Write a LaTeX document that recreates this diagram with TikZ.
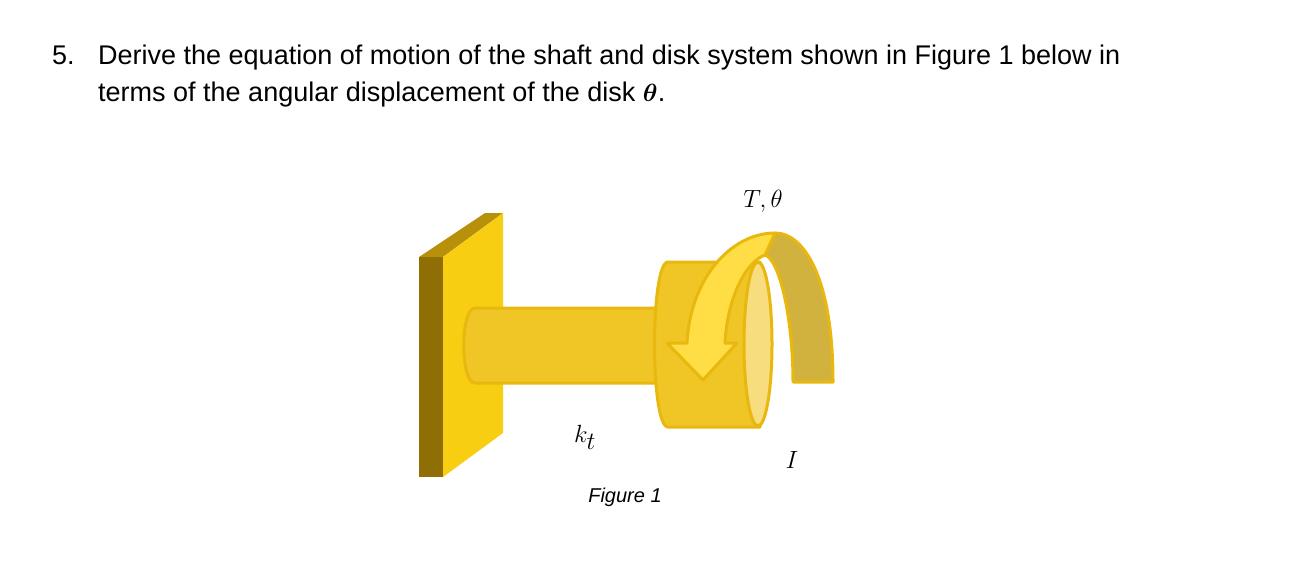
\documentclass[tikz,border=0pt]{standalone}
\usepackage{amsmath,bm}
\usepackage{fontspec}
\setmainfont{Liberation Sans}
\begin{document}
\begin{tikzpicture}[x=1pt,y=-1pt,line join=round,
  edge/.style={draw=strokeY,line width=3pt},
  lbl/.style={font=\fontsize{34}{38}\selectfont,inner sep=0pt}]
\definecolor{strokeY}{HTML}{E8B80E}
\definecolor{bodyY}{HTML}{F0C526}
\definecolor{faceY}{HTML}{F7DD7E}
\definecolor{wallY}{HTML}{F8CE12}
\definecolor{wallD}{HTML}{8F6E06}
\definecolor{wallT}{HTML}{B8900A}
\definecolor{bandB}{HTML}{D2B23E}
\definecolor{bandF}{HTML}{FFDE45}
\useasboundingbox[fill=white] (0,0) rectangle (1292,582);
% title
\node[anchor=base west,inner sep=0pt,font=\fontsize{27}{30}\selectfont] (num) at (52,64) {5.};
\node[anchor=base west,inner sep=0pt,font=\fontsize{27}{30}\selectfont] (l1) at (98,64) {Derive the equation of motion of the shaft and disk system shown in Figure 1 below in};
\node[anchor=base west,inner sep=0pt,font=\fontsize{27}{30}\selectfont] (l2) at (98,101) {terms of the angular displacement of the disk $\bm{\theta}$.};
% wall
\fill[wallD] (419,257) -- (443,257) -- (443,477) -- (419,477) -- cycle;
\fill[wallT] (419,257) -- (485,213) -- (503,213) -- (443,257) -- cycle;
\fill[wallY] (443,257) -- (503,213) -- (503,433) -- (443,477) -- cycle;
% back band
\filldraw[edge,fill=bandB] (833,382) .. controls (833,280) and (805,233) .. (775,233)
  -- (765,255) .. controls (780,260) and (793,320) .. (793,382) -- cycle;
% shaft
\filldraw[edge,fill=bodyY] (660,308) -- (475,308) .. controls (460,308) and (460,383) .. (475,383) -- (660,383);
% disk cylinder
\filldraw[edge,fill=bodyY] (760,262) -- (668,262) .. controls (650,262) and (650,427) .. (668,427) -- (760,427) -- cycle;
\filldraw[edge,fill=faceY] (758,344) ellipse [x radius=14, y radius=82];
% front band with arrow head
\filldraw[edge,fill=bandF] (775,233) .. controls (730,233) and (690,280) .. (687,343)
  -- (667,343) -- (703,380) -- (737,343) -- (725,343)
  .. controls (727,300) and (745,262) .. (765,255) -- cycle;
% labels
\node[lbl] (T) at (763,201) {$T,\theta$};
\node[lbl] (k) at (585,437) {$k_t$};
\node[lbl] (I) at (792,460) {$I$};
\node[inner sep=0pt,font=\fontsize{20}{24}\selectfont\itshape] (fig) at (625,497) {Figure 1};
\end{tikzpicture}
\end{document}
